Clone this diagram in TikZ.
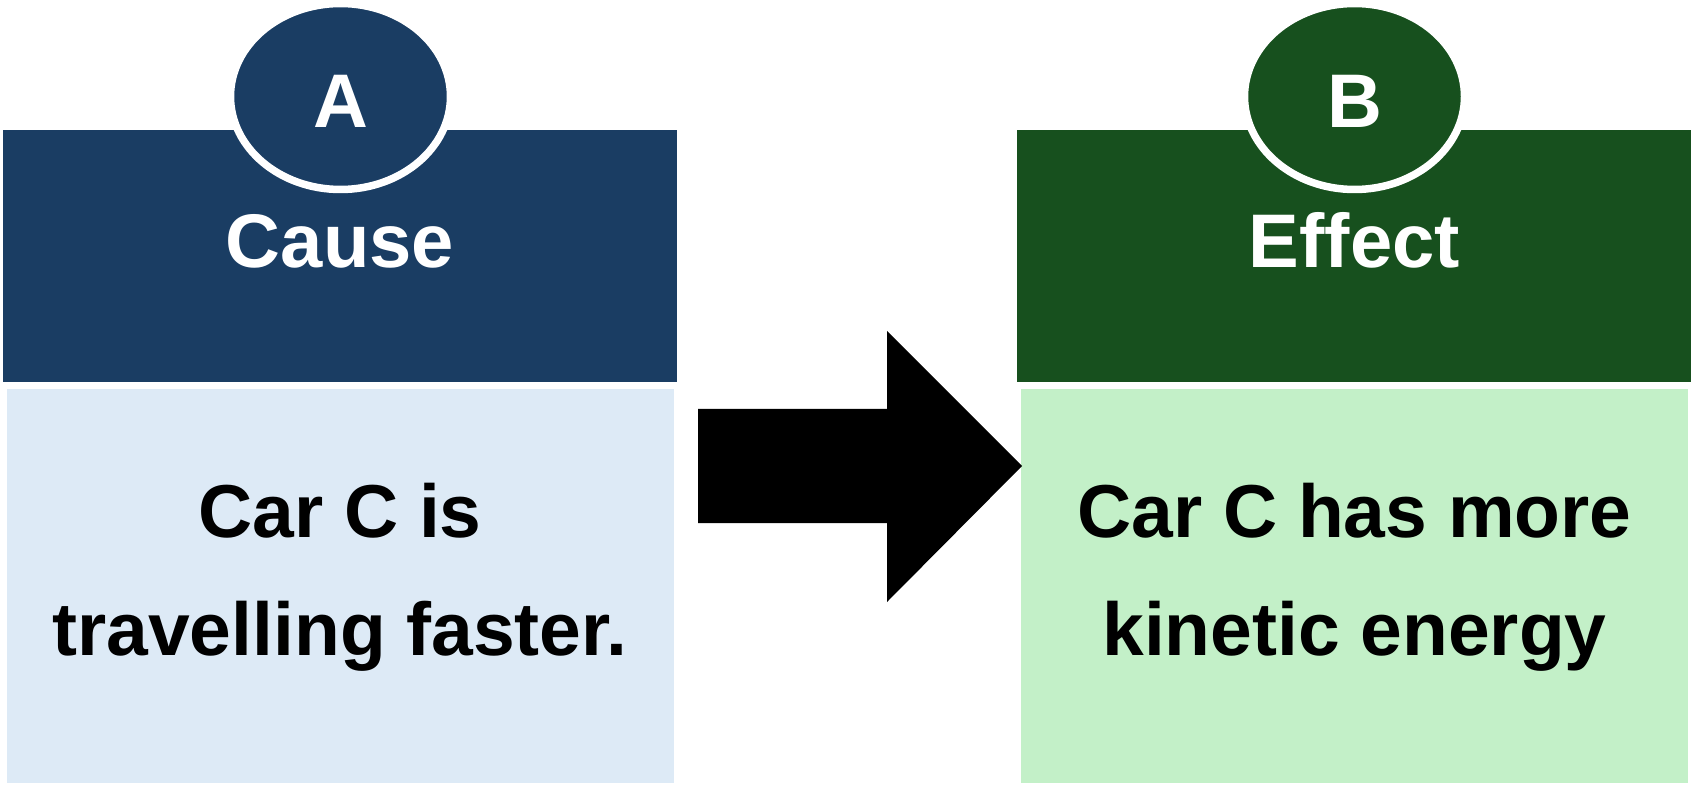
\documentclass[tikz,border=0pt]{standalone}
\usepackage{fontspec}
\setmainfont{Liberation Sans}
\usetikzlibrary{shapes.geometric}
\definecolor{darkblue}{RGB}{26,61,99}
\definecolor{lightblue}{RGB}{221,234,246}
\definecolor{darkgreen}{RGB}{23,80,30}
\definecolor{lightgreen}{RGB}{195,240,200}
\tikzset{
  headbox/.style={inner sep=0, outer sep=0},
  bodybox/.style={inner sep=0, outer sep=0},
  badge/.style={ellipse, inner sep=0, outer sep=0, minimum width=220, minimum height=186, draw=white, line width=7.5pt},
  bigtxt/.style={inner sep=0, anchor=base, font=\fontsize{76}{90}\selectfont\bfseries},
  bodytxt/.style={inner sep=0, anchor=base, font=\fontsize{75}{90}\selectfont\bfseries, text=black},
}
\begin{document}
\begin{tikzpicture}[x=1pt,y=-1pt]
\useasboundingbox (0,0) rectangle (1695,791);
% left column
\fill[darkblue] (3,130) rectangle (677,382);
\node[headbox] (causehead) at (340,256) {};
\fill[lightblue] (7,389) rectangle (674,783);
\node[bodybox] (causebody) at (340.5,586) {};
\node[badge, fill=darkblue] (badgeA) at (340.5,96.5) {};
\node[bigtxt, text=white] (letA) at (340.5,128) {A};
\node[bigtxt, text=white] (cause) at (340,268) {Cause};
\node[bodytxt] (c1) at (340,537) {Car C is};
\node[bodytxt] (c2) at (340,655) {travelling faster.};
% right column
\fill[darkgreen] (1017,130) rectangle (1691,382);
\node[headbox] (effecthead) at (1354,256) {};
\fill[lightgreen] (1021,389) rectangle (1688,783);
\node[bodybox] (effectbody) at (1354.5,586) {};
\node[badge, fill=darkgreen] (badgeB) at (1354.5,96.5) {};
\node[bigtxt, text=white] (letB) at (1354.5,128) {B};
\node[bigtxt, text=white] (effect) at (1354.5,268) {Effect};
\node[bodytxt] (e1) at (1354.5,537) {Car C has more};
\node[bodytxt] (e2) at (1354.5,655) {kinetic energy};
% block arrow
\coordinate (arrtail) at (698,466);
\coordinate (arrtip) at (1022,466);
\fill[black] (698,409) -- (887,409) -- (887,331) -- (arrtip) -- (887,602) -- (887,523) -- (698,523) -- cycle;
\end{tikzpicture}
\end{document}
